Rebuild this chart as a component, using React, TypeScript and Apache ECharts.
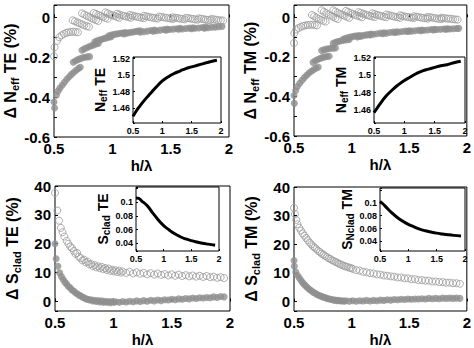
import React, { useEffect, useRef } from "react";
import * as echarts from "echarts";

type Pt = [number, number];

// ---------- tick labels ----------
const mainXTicks = [0.5, 1, 1.5, 2];
const neffMainYTicks = [-0.6, -0.4, -0.2, 0];
const scladMainYTicks = [0, 10, 20, 30, 40];
const neffInsetYTicks = [1.46, 1.48, 1.5, 1.52];
const scladInsetYTicks = [0.04, 0.06, 0.08, 0.1];

// ---------- Δ N_eff TE (%) ----------
const teNeffOpen: Pt[] = [
  [0.5, -0.195], [0.505, -0.15],
  [0.525, -0.118], [0.545, -0.1], [0.565, -0.09], [0.585, -0.083], [0.605, -0.078], [0.625, -0.075], [0.645, -0.073], [0.665, -0.072], [0.685, -0.073], [0.705, -0.075],
  [0.66, -0.015], [0.68, -0.02], [0.7, -0.025], [0.72, -0.03], [0.74, -0.035], [0.76, -0.04], [0.78, -0.044], [0.8, -0.047],
  [0.74, 0.02], [0.76, 0.014], [0.78, 0.008], [0.8, 0.002], [0.82, -0.004], [0.84, -0.009], [0.86, -0.014], [0.88, -0.018],
  [0.84, 0.022], [0.86, 0.017], [0.88, 0.012], [0.9, 0.007], [0.92, 0.002], [0.94, -0.003], [0.96, -0.007],
  [0.94, 0.025], [0.96, 0.02], [0.98, 0.015], [1.0, 0.01], [1.02, 0.006], [1.04, 0.002], [1.06, -0.002],
  [1.04, 0.018], [1.06, 0.014], [1.08, 0.01], [1.1, 0.007], [1.12, 0.004], [1.14, 0.001], [1.16, -0.002],
  [1.15, 0.012], [1.17, 0.009], [1.19, 0.006], [1.21, 0.003], [1.23, 0.001], [1.25, -0.002], [1.27, -0.004],
  [1.27, 0.008], [1.29, 0.005], [1.31, 0.003], [1.33, 0.0], [1.35, -0.002], [1.37, -0.004], [1.39, -0.006],
  [1.4, 0.004], [1.42, 0.002], [1.44, 0.0], [1.46, -0.002], [1.48, -0.004], [1.5, -0.006], [1.52, -0.008],
  [1.52, 0.0], [1.54, -0.002], [1.56, -0.004], [1.58, -0.006], [1.6, -0.008], [1.62, -0.01],
  [1.63, -0.002], [1.65, -0.004], [1.67, -0.006], [1.69, -0.008], [1.71, -0.01], [1.73, -0.012],
  [1.74, -0.005], [1.76, -0.007], [1.78, -0.009], [1.8, -0.011], [1.82, -0.013], [1.84, -0.014],
  [1.85, -0.008], [1.87, -0.01], [1.89, -0.012], [1.91, -0.014], [1.93, -0.015], [1.95, -0.016],
];
const teNeffFilled: Pt[] = [
  [0.5, -0.425], [0.505, -0.455],
  [0.52, -0.39], [0.535, -0.37], [0.55, -0.355], [0.57, -0.34], [0.59, -0.325], [0.61, -0.31], [0.63, -0.298], [0.65, -0.286], [0.67, -0.275], [0.69, -0.265], [0.71, -0.256], [0.725, -0.25],
  [0.665, -0.225], [0.685, -0.218], [0.705, -0.212], [0.725, -0.207], [0.745, -0.203], [0.765, -0.2], [0.785, -0.198], [0.805, -0.197],
  [0.74, -0.165], [0.76, -0.158], [0.78, -0.152], [0.8, -0.147], [0.82, -0.142], [0.84, -0.138], [0.86, -0.134], [0.88, -0.131],
  [0.85, -0.123], [0.87, -0.118], [0.89, -0.114], [0.91, -0.11], [0.93, -0.106], [0.95, -0.103], [0.97, -0.1], [0.99, -0.097],
  [0.97, -0.092], [0.99, -0.089], [1.01, -0.086], [1.03, -0.084], [1.05, -0.082], [1.07, -0.08], [1.09, -0.078], [1.11, -0.076],
  [1.1, -0.083], [1.12, -0.08], [1.14, -0.077], [1.16, -0.075], [1.18, -0.073], [1.2, -0.071], [1.22, -0.069], [1.24, -0.067],
  [1.24, -0.075], [1.27, -0.072], [1.3, -0.069], [1.33, -0.066], [1.36, -0.064],
  [1.35, -0.07], [1.38, -0.067], [1.41, -0.064], [1.44, -0.061], [1.47, -0.059],
  [1.46, -0.064], [1.49, -0.061], [1.52, -0.059], [1.55, -0.057], [1.58, -0.055],
  [1.57, -0.06], [1.6, -0.058], [1.63, -0.056], [1.66, -0.054], [1.69, -0.052],
  [1.68, -0.057], [1.71, -0.055], [1.74, -0.053], [1.77, -0.051], [1.8, -0.049],
  [1.79, -0.054], [1.82, -0.052], [1.85, -0.05], [1.88, -0.049], [1.91, -0.047], [1.94, -0.046],
];

// ---------- Δ N_eff TM (%) ----------
const tmNeffOpen: Pt[] = [
  [0.5, -0.13], [0.503, -0.08],
  [0.52, -0.062], [0.54, -0.054], [0.56, -0.048], [0.58, -0.044], [0.6, -0.041], [0.62, -0.039], [0.64, -0.038], [0.66, -0.038], [0.68, -0.039], [0.7, -0.041],
  [0.655, 0.012], [0.675, 0.005], [0.695, -0.002], [0.715, -0.008], [0.735, -0.013], [0.755, -0.018], [0.775, -0.022],
  [0.74, 0.035], [0.76, 0.028], [0.78, 0.021], [0.8, 0.014], [0.82, 0.008], [0.84, 0.002], [0.86, -0.004], [0.88, -0.009],
  [0.84, 0.035], [0.86, 0.029], [0.88, 0.023], [0.9, 0.017], [0.92, 0.012], [0.94, 0.007], [0.96, 0.002], [0.98, -0.003],
  [0.95, 0.032], [0.97, 0.027], [0.99, 0.022], [1.01, 0.017], [1.03, 0.012], [1.05, 0.008], [1.07, 0.004], [1.09, 0.0],
  [1.06, 0.026], [1.08, 0.022], [1.1, 0.018], [1.12, 0.014], [1.14, 0.01], [1.16, 0.007], [1.18, 0.004], [1.2, 0.001],
  [1.18, 0.02], [1.2, 0.016], [1.22, 0.012], [1.24, 0.009], [1.26, 0.006], [1.28, 0.003], [1.3, 0.0],
  [1.3, 0.014], [1.32, 0.011], [1.34, 0.008], [1.36, 0.005], [1.38, 0.002], [1.4, 0.0], [1.42, -0.003],
  [1.42, 0.01], [1.44, 0.007], [1.46, 0.004], [1.48, 0.002], [1.5, 0.0], [1.52, -0.002], [1.54, -0.004],
  [1.54, 0.005], [1.56, 0.003], [1.58, 0.001], [1.6, -0.001], [1.62, -0.003], [1.64, -0.005], [1.66, -0.007],
  [1.66, 0.002], [1.68, 0.0], [1.7, -0.002], [1.72, -0.004], [1.74, -0.006], [1.76, -0.008], [1.78, -0.009],
  [1.78, -0.002], [1.8, -0.004], [1.82, -0.006], [1.84, -0.007], [1.86, -0.008], [1.88, -0.01], [1.9, -0.011], [1.92, -0.012],
];
const tmNeffFilled: Pt[] = [
  [0.5, -0.395], [0.503, -0.435],
  [0.515, -0.37], [0.53, -0.35], [0.55, -0.333], [0.57, -0.318], [0.59, -0.305], [0.61, -0.293], [0.63, -0.282], [0.65, -0.273], [0.67, -0.265], [0.69, -0.258], [0.71, -0.252],
  [0.665, -0.228], [0.685, -0.22], [0.705, -0.213], [0.725, -0.208], [0.745, -0.204], [0.765, -0.2], [0.785, -0.198], [0.805, -0.197],
  [0.74, -0.168], [0.76, -0.164], [0.78, -0.161], [0.8, -0.159], [0.82, -0.157], [0.84, -0.156], [0.86, -0.155],
  [0.84, -0.132], [0.86, -0.127], [0.88, -0.123], [0.9, -0.12], [0.92, -0.117], [0.94, -0.115], [0.96, -0.113], [0.98, -0.112],
  [0.93, -0.11], [0.95, -0.106], [0.97, -0.103], [0.99, -0.1], [1.01, -0.097], [1.03, -0.095], [1.05, -0.093], [1.07, -0.092],
  [1.05, -0.1], [1.07, -0.097], [1.09, -0.094], [1.11, -0.091], [1.13, -0.089], [1.15, -0.087], [1.17, -0.085],
  [1.16, -0.09], [1.19, -0.086], [1.22, -0.083], [1.25, -0.08], [1.28, -0.078],
  [1.27, -0.083], [1.3, -0.08], [1.33, -0.077], [1.36, -0.075], [1.39, -0.073],
  [1.38, -0.077], [1.41, -0.074], [1.44, -0.072], [1.47, -0.07], [1.5, -0.068],
  [1.49, -0.072], [1.52, -0.07], [1.55, -0.068], [1.58, -0.066], [1.61, -0.064],
  [1.6, -0.068], [1.63, -0.066], [1.66, -0.064], [1.69, -0.062], [1.72, -0.061],
  [1.71, -0.064], [1.74, -0.062], [1.77, -0.061], [1.8, -0.059], [1.83, -0.058],
  [1.82, -0.061], [1.85, -0.059], [1.88, -0.058], [1.91, -0.057], [1.93, -0.056],
];

// ---------- Δ S_clad TE (%) ----------
const teScladOpen: Pt[] = [
  [0.5, 37.6], [0.52, 31.5], [0.535, 28], [0.55, 25.5], [0.565, 24], [0.58, 22.5], [0.6, 21], [0.615, 20], [0.63, 19], [0.645, 18.5],
  [0.66, 17.5], [0.675, 16.5], [0.69, 16.8], [0.705, 15.5], [0.72, 15], [0.735, 14.2], [0.75, 14.5], [0.765, 13.5], [0.78, 13.8], [0.795, 12.8],
  [0.81, 13], [0.825, 12.2], [0.84, 12.6], [0.855, 11.8], [0.87, 12.2], [0.885, 11.5], [0.9, 12], [0.915, 11.2], [0.93, 11.6], [0.945, 10.9],
  [0.96, 11.4], [0.975, 10.6], [0.99, 11], [1.005, 10.4], [1.02, 10.8], [1.035, 10.2], [1.05, 10.7], [1.065, 10], [1.08, 10.4], [1.11, 9.9],
  [1.14, 10.3], [1.17, 9.7], [1.2, 10.1], [1.23, 9.6], [1.26, 9.9], [1.29, 9.4], [1.32, 9.8], [1.35, 9.3], [1.38, 9.7], [1.41, 9.2],
  [1.44, 9.5], [1.47, 9.0], [1.5, 9.4], [1.53, 8.9], [1.56, 9.3], [1.59, 8.8], [1.62, 9.1], [1.65, 8.7], [1.68, 9.0], [1.71, 8.6],
  [1.74, 8.9], [1.77, 8.5], [1.8, 8.8], [1.83, 8.4], [1.86, 8.6], [1.89, 8.2], [1.92, 8.4], [1.95, 8.1],
];
const teScladFilled: Pt[] = [
  [0.5, 20], [0.51, 14.8], [0.525, 12.2], [0.54, 9.9], [0.555, 8.6], [0.57, 7.6], [0.585, 6.7], [0.6, 6.0], [0.615, 5.2], [0.63, 4.7],
  [0.645, 4.0], [0.66, 3.6], [0.675, 3.0], [0.69, 2.7], [0.705, 2.2], [0.72, 2.0], [0.735, 1.5], [0.75, 1.3], [0.765, 0.9], [0.78, 0.8],
  [0.795, 0.5], [0.81, 0.6], [0.825, 0.2], [0.84, 0.4], [0.855, 0.0], [0.87, 0.3], [0.885, -0.2], [0.9, 0.2], [0.915, -0.3], [0.93, 0.1],
  [0.945, -0.3], [0.96, 0.0], [0.975, -0.4], [0.99, 0.0], [1.005, -0.3], [1.02, -0.1], [1.05, -0.3], [1.08, 0.0], [1.11, -0.2], [1.14, 0.1],
  [1.17, -0.1], [1.2, 0.2], [1.23, 0.0], [1.26, 0.3], [1.29, 0.1], [1.32, 0.4], [1.35, 0.2], [1.38, 0.5], [1.41, 0.3], [1.44, 0.6],
  [1.47, 0.5], [1.5, 0.8], [1.53, 0.6], [1.56, 0.9], [1.59, 0.8], [1.62, 1.0], [1.65, 0.9], [1.68, 1.2], [1.71, 1.0], [1.74, 1.3],
  [1.77, 1.2], [1.8, 1.4], [1.83, 1.3], [1.86, 1.6], [1.89, 1.4], [1.92, 1.7], [1.95, 1.6],
];

// ---------- Δ S_clad TM (%) ----------
const tmScladOpen: Pt[] = [
  [0.5, 32.7], [0.508, 30.5], [0.52, 28.5], [0.53, 27], [0.545, 25.8], [0.56, 24.8], [0.575, 23.8], [0.59, 23], [0.605, 22.2], [0.62, 21.4],
  [0.635, 20.6], [0.65, 20], [0.665, 19.3], [0.68, 18.8], [0.695, 18.3], [0.71, 17.7], [0.725, 17.3], [0.74, 16.7], [0.755, 16.4], [0.77, 15.9],
  [0.785, 15.6], [0.8, 15.1], [0.815, 14.9], [0.83, 14.4], [0.845, 14.2], [0.86, 13.8], [0.875, 13.6], [0.89, 13.2], [0.905, 13.0], [0.92, 12.7],
  [0.935, 12.5], [0.95, 12.2], [0.965, 12.1], [0.98, 11.8], [0.995, 11.7], [1.01, 11.4], [1.04, 11.0], [1.07, 10.8], [1.1, 10.4], [1.13, 10.2],
  [1.16, 9.9], [1.19, 9.8], [1.22, 9.5], [1.25, 9.4], [1.28, 9.1], [1.31, 9.0], [1.34, 8.8], [1.37, 8.7], [1.4, 8.4], [1.43, 8.4],
  [1.46, 8.1], [1.49, 8.1], [1.52, 7.8], [1.55, 7.8], [1.58, 7.5], [1.61, 7.5], [1.64, 7.3], [1.67, 7.3], [1.7, 7.0], [1.73, 7.0],
  [1.76, 6.8], [1.79, 6.8], [1.82, 6.6], [1.85, 6.6], [1.88, 6.4], [1.91, 6.4], [1.94, 6.2],
];
const tmScladFilled: Pt[] = [
  [0.5, 14.3], [0.503, 12.3], [0.515, 10.3], [0.53, 9.2], [0.545, 8.3], [0.56, 7.4], [0.575, 6.6], [0.59, 5.9], [0.605, 5.3], [0.62, 4.7],
  [0.635, 4.2], [0.65, 3.8], [0.665, 3.3], [0.68, 3.0], [0.695, 2.6], [0.71, 2.3], [0.725, 2.0], [0.74, 1.8], [0.755, 1.5], [0.77, 1.4],
  [0.785, 1.1], [0.8, 1.0], [0.815, 0.8], [0.83, 0.7], [0.845, 0.5], [0.86, 0.5], [0.875, 0.3], [0.89, 0.4], [0.905, 0.2], [0.92, 0.3],
  [0.935, 0.1], [0.95, 0.3], [0.98, 0.1], [1.01, 0.3], [1.04, 0.1], [1.07, 0.3], [1.1, 0.2], [1.13, 0.4], [1.16, 0.2], [1.19, 0.4],
  [1.22, 0.3], [1.25, 0.5], [1.28, 0.4], [1.31, 0.6], [1.34, 0.5], [1.37, 0.7], [1.4, 0.6], [1.43, 0.8], [1.46, 0.7], [1.49, 0.9],
  [1.52, 0.8], [1.55, 0.9], [1.58, 0.9], [1.61, 1.0], [1.64, 0.9], [1.67, 1.1], [1.7, 1.0], [1.73, 1.1], [1.76, 1.0], [1.79, 1.2],
  [1.82, 1.1], [1.85, 1.2], [1.88, 1.1], [1.91, 1.2], [1.94, 1.1],
];

// ---------- insets ----------
const insetX = [0.5, 0.55, 0.6, 0.7, 0.8, 0.9, 1.0, 1.1, 1.2, 1.3, 1.4, 1.5, 1.6, 1.7, 1.8, 1.93];
const neffTE = [1.45, 1.456, 1.461, 1.47, 1.478, 1.486, 1.493, 1.498, 1.502, 1.505, 1.508, 1.51, 1.512, 1.514, 1.516, 1.518];
const neffTM = [1.457, 1.462, 1.467, 1.476, 1.483, 1.489, 1.494, 1.498, 1.502, 1.505, 1.507, 1.509, 1.511, 1.512, 1.514, 1.516];
const scladTE = [0.106, 0.1055, 0.102, 0.095, 0.0845, 0.0745, 0.066, 0.0595, 0.054, 0.0497, 0.0465, 0.044, 0.042, 0.0403, 0.039, 0.0375];
const scladTM = [0.102, 0.0985, 0.094, 0.085, 0.0775, 0.0715, 0.0665, 0.0625, 0.059, 0.0565, 0.0545, 0.0528, 0.0515, 0.0503, 0.0493, 0.0483];

const FONT = "'Liberation Sans',Arial,sans-serif";
const OPEN_COLOR = "#9a9a9a";
const FILL_COLOR = "#8e8e8e";

const fmt = (ticks: number[]) => (v: number) => {
  const hit = ticks.find((t) => Math.abs(t - v) < 1e-6);
  return hit === undefined ? "" : String(hit);
};

interface Panel {
  grid: { left: number; top: number; width: number; height: number };
  inset: { left: number; top: number; width: number; height: number };
  yMin: number; yMax: number; yTicks: number[];
  iyMin: number; iyMax: number; iyTicks: number[];
  yName: string; iyName: string;
  open: Pt[]; filled: Pt[]; line: number[];
}

const panels: Panel[] = [
  {
    grid: { left: 54, top: 5, width: 175, height: 132 },
    inset: { left: 133, top: 57, width: 88, height: 66 },
    yMin: -0.6, yMax: 0.062, yTicks: neffMainYTicks,
    iyMin: 1.442, iyMax: 1.522, iyTicks: neffInsetYTicks,
    yName: "{a|Δ N}{s|eff}{a| TE (%)}", iyName: "{a|N}{s|eff}{a| TE}",
    open: teNeffOpen, filled: teNeffFilled, line: neffTE,
  },
  {
    grid: { left: 294, top: 5, width: 176, height: 131 },
    inset: { left: 374, top: 57, width: 91, height: 66 },
    yMin: -0.6, yMax: 0.062, yTicks: neffMainYTicks,
    iyMin: 1.445, iyMax: 1.521, iyTicks: neffInsetYTicks,
    yName: "{a|Δ N}{s|eff}{a| TM (%)}", iyName: "{a|N}{s|eff}{a| TM}",
    open: tmNeffOpen, filled: tmNeffFilled, line: neffTM,
  },
  {
    grid: { left: 55, top: 186, width: 175, height: 132 },
    inset: { left: 136, top: 187, width: 83, height: 64 },
    yMin: -3.3, yMax: 40, yTicks: scladMainYTicks,
    iyMin: 0.029, iyMax: 0.122, iyTicks: scladInsetYTicks,
    yName: "{a|Δ S}{s|clad}{a| TE (%)}", iyName: "{a|S}{s|clad}{a| TE}",
    open: teScladOpen, filled: teScladFilled, line: scladTE,
  },
  {
    grid: { left: 294, top: 187, width: 176, height: 131 },
    inset: { left: 380, top: 188, width: 85, height: 63 },
    yMin: -3.3, yMax: 40, yTicks: scladMainYTicks,
    iyMin: 0.025, iyMax: 0.123, iyTicks: scladInsetYTicks,
    yName: "{a|Δ S}{s|clad}{a| TM (%)}", iyName: "{a|S}{s|Nclad}{a| TM}",
    open: tmScladOpen, filled: tmScladFilled, line: scladTM,
  },
];

function buildOption() {
  const grid: any[] = [];
  const xAxis: any[] = [];
  const yAxis: any[] = [];
  const series: any[] = [];

  const mainRich = {
    a: { fontFamily: FONT, fontWeight: "bold", fontSize: 16, color: "#000", lineHeight: 19 },
    s: { fontFamily: FONT, fontWeight: "bold", fontSize: 11, color: "#000", lineHeight: 11, verticalAlign: "bottom" },
  };
  const insetRich = {
    a: { fontFamily: FONT, fontWeight: "bold", fontSize: 14, color: "#000", lineHeight: 17 },
    s: { fontFamily: FONT, fontWeight: "bold", fontSize: 10, color: "#000", lineHeight: 10, verticalAlign: "bottom" },
  };

  panels.forEach((p) => {
    const gi = grid.length;
    grid.push({ ...p.grid, show: true, backgroundColor: "#fff", borderColor: "#000", borderWidth: 1, z: 0 });
    xAxis.push({
      gridIndex: gi, type: "value", min: 0.5, max: 2, interval: 0.5,
      name: "h/λ", nameLocation: "middle", nameGap: 21,
      nameTextStyle: { fontFamily: FONT, fontWeight: "bold", fontSize: 15, color: "#000" },
      axisLine: { show: false },
      axisTick: { show: true, inside: true, length: 3, lineStyle: { color: "#000" } },
      splitLine: { show: false },
      axisLabel: { fontFamily: FONT, fontWeight: "bold", fontSize: 15, color: "#000", margin: 4, formatter: fmt(mainXTicks) },
    });
    yAxis.push({
      gridIndex: gi, type: "value", min: p.yMin, max: p.yMax,
      name: p.yName, nameLocation: "middle", nameGap: 33, nameRotate: 90,
      nameTextStyle: { rich: mainRich },
      axisLine: { show: false },
      axisTick: { show: true, inside: true, length: 3, lineStyle: { color: "#000" } },
      splitLine: { show: false },
      axisLabel: { fontFamily: FONT, fontWeight: "bold", fontSize: 15, color: "#000", margin: 4, formatter: fmt(p.yTicks) },
    });
    series.push({
      type: "scatter", xAxisIndex: gi, yAxisIndex: gi, z: 2,
      data: p.open, symbol: "circle", symbolSize: 7,
      itemStyle: { color: "transparent", borderColor: OPEN_COLOR, borderWidth: 1 },
    });
    series.push({
      type: "scatter", xAxisIndex: gi, yAxisIndex: gi, z: 2,
      data: p.filled, symbol: "circle", symbolSize: 7,
      itemStyle: { color: FILL_COLOR, borderColor: FILL_COLOR, borderWidth: 0 },
    });
  });

  panels.forEach((p) => {
    const gi = grid.length;
    grid.push({ ...p.inset, show: true, backgroundColor: "#fff", borderColor: "#000", borderWidth: 1, z: 5 });
    xAxis.push({
      gridIndex: gi, type: "value", min: 0.5, max: 2, interval: 0.5, z: 6,
      axisLine: { show: false },
      axisTick: { show: true, inside: true, length: 2, lineStyle: { color: "#000" } },
      splitLine: { show: false },
      axisLabel: { fontFamily: FONT, fontWeight: "bold", fontSize: 9, color: "#000", margin: 3, formatter: fmt(mainXTicks) },
    });
    yAxis.push({
      gridIndex: gi, type: "value", min: p.iyMin, max: p.iyMax, z: 6,
      name: p.iyName, nameLocation: "middle", nameGap: 22, nameRotate: 90,
      nameTextStyle: { rich: insetRich },
      axisLine: { show: false },
      axisTick: { show: true, inside: true, length: 2, lineStyle: { color: "#000" } },
      splitLine: { show: false },
      axisLabel: { fontFamily: FONT, fontWeight: "bold", fontSize: 9, color: "#000", margin: 3, formatter: fmt(p.iyTicks) },
    });
    series.push({
      type: "line", xAxisIndex: gi, yAxisIndex: gi, z: 7,
      data: insetX.map((x, k) => [x, p.line[k]]),
      smooth: true, showSymbol: false, symbol: "none",
      lineStyle: { color: "#000", width: 3 },
    });
  });

  return {
    animation: false,
    backgroundColor: "#fff",
    textStyle: { fontFamily: FONT },
    grid, xAxis, yAxis, series,
  };
}

export default function App() {
  const ref = useRef<HTMLDivElement>(null);
  useEffect(() => {
    if (!ref.current) return;
    const chart = echarts.init(ref.current, null, { renderer: "svg" });
    chart.setOption(buildOption() as any);
    return () => chart.dispose();
  }, []);
  return (
    <div
      ref={ref}
      style={{ position: "fixed", left: 0, top: 0, width: 474, height: 348, background: "#fff" }}
    />
  );
}
